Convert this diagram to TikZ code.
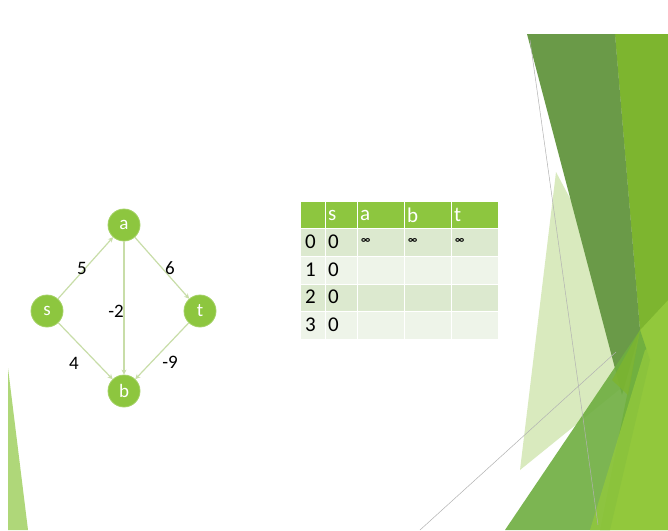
\documentclass[tikz,border=0pt]{standalone}
\usepackage{fontspec}
\setmainfont{Carlito}
\usetikzlibrary{arrows.meta}
\definecolor{gA}{HTML}{8DC63F}
\definecolor{gEdge}{HTML}{C8DDA8}
\definecolor{rowA}{HTML}{DCE9CF}
\definecolor{rowB}{HTML}{EEF4E9}
\definecolor{dk}{HTML}{6A9A48}
\definecolor{md}{HTML}{7DB52F}
\definecolor{br}{HTML}{92C83C}
\definecolor{pl}{HTML}{D5E8B8}
\definecolor{gm}{HTML}{6EAE40}
\tikzset{
  vert/.style={circle,fill=gA,draw=gA!80!white,line width=0.8pt,minimum size=32pt,inner sep=0pt,text=white,font=\fontsize{19}{20}\selectfont},
  edge/.style={draw=gEdge,line width=1.2pt,-{Stealth[length=5pt,width=5pt]}},
  wt/.style={font=\fontsize{19}{20}\selectfont,text=black},
  cell/.style={minimum height=26pt,inner sep=0pt,anchor=west,font=\fontsize{21}{22}\selectfont}
}
\begin{document}
\begin{tikzpicture}[x=1pt,y=-1pt]
\useasboundingbox (0,0) rectangle (668,530);
\fill[white] (0,0) rectangle (668,530);
% background decoration
\fill[br] (615,34) -- (668,34) -- (668,530) -- (600,530) -- (640,330) -- cycle;
\fill[md] (615,34) -- (668,34) -- (668,300) -- (640,330) -- cycle;
\fill[pl,opacity=0.9] (556,172) -- (640,330) -- (625,385) -- (520,470) -- cycle;
\fill[dk] (527,34) -- (615,34) -- (640,330) -- (622,395) -- cycle;
\fill[gm,opacity=0.9] (505,530) -- (640,330) -- (650,360) -- (610,530) -- cycle;
\fill[br,opacity=0.8] (590,530) -- (645,350) -- (668,340) -- (668,530) -- cycle;
\fill[md,opacity=0.8] (612,380) -- (640,330) -- (628,395) -- cycle;
\draw[gray!60,line width=0.5pt] (530,40) -- (598,525);
\draw[gray!60,line width=0.5pt] (420,530) -- (616,352);
\fill[gA!70] (8,368) -- (28,530) -- (8,530) -- cycle;
% graph
\node[vert] (a) at (124,225) {a};
\node[vert] (s) at (47,311) {s};
\node[vert] (t) at (200,311) {t};
\node[vert] (b) at (124,391) {b};
\draw[edge] (s) -- (a);
\draw[edge] (a) -- (t);
\draw[edge] (a) -- (b);
\draw[edge] (s) -- (b);
\draw[edge] (t) -- (b);
\node[wt] (w1) at (82,268) {5};
\node[wt] (w2) at (170,268) {6};
\node[wt] (w3) at (116,311) {-2};
\node[wt] (w4) at (74,363) {4};
\node[wt] (w5) at (170,362) {-9};
% table
\fill[gA] (301,202) rectangle (498,228);
\fill[rowA] (301,228) rectangle (498,256);
\fill[rowB] (301,256) rectangle (498,284);
\fill[rowA] (301,284) rectangle (498,311);
\fill[rowB] (301,311) rectangle (498,339);
\foreach \x in {325,357,404,451} \draw[white,line width=1pt] (\x,202) -- (\x,339);
\foreach \y in {228,256,284,311} \draw[white,line width=1pt] (301,\y) -- (498,\y);
\foreach \lab/\x in {s/328,a/360,b/407,t/454}
  \node[cell,text=white] (h\lab) at (\x,215) {\lab};
\foreach \r/\y in {0/242,1/270,2/297,3/325}{
  \node[cell] (r\r) at (305,\y) {\r};
  \node[cell] (z\r) at (328,\y) {0};
}
\foreach \x in {361,408,455}
  \node[cell,font=\fontsize{11}{11}\selectfont] (inf\x) at (\x,241) {\textbf{∞}};
\end{tikzpicture}
\end{document}
